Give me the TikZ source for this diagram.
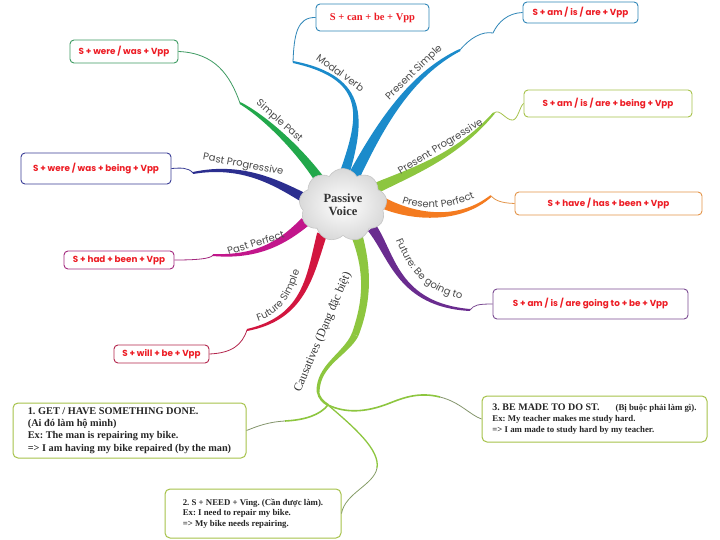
\documentclass[tikz,border=0pt]{standalone}
\usepackage{fontspec}
\setmainfont{Liberation Serif}
\newfontfamily\gothic{Poppins}
\usetikzlibrary{calc,shapes.symbols,decorations.text}
\definecolor{cblue}{HTML}{1B8BCB}
\definecolor{cyg}{HTML}{8DC63F}
\definecolor{corange}{HTML}{F47B20}
\definecolor{cpurple}{HTML}{6A2C8F}
\definecolor{cgreen}{HTML}{22A84B}
\definecolor{cnavy}{HTML}{2B2E8F}
\definecolor{cmag}{HTML}{C2168B}
\definecolor{ccrim}{HTML}{D2163F}
\definecolor{fred}{HTML}{ED1C24}
\definecolor{lblgray}{HTML}{4A4A4A}
\definecolor{bblue}{HTML}{2F86B8}
\definecolor{bgreen}{HTML}{3E9B62}
\definecolor{bnavy}{HTML}{3A3E96}
\definecolor{bmag}{HTML}{A3297E}
\definecolor{bcrim}{HTML}{B3254C}
\definecolor{byg}{HTML}{A6C24A}
\definecolor{borange}{HTML}{E39449}
\definecolor{bpurple}{HTML}{7B4B92}
% tapered branch: color, A, C1, C2, B, half width at A, half width at B
\newcommand\tbr[7]{%
  \path ($(#2)!#6!90:(#3)$) coordinate (tA1)
        ($(#2)!#6!-90:(#3)$) coordinate (tA2)
        ($(#5)!#7!-90:(#4)$) coordinate (tB1)
        ($(#5)!#7!90:(#4)$) coordinate (tB2)
        ($(#3)!0.7*#6!-90:(#2)$) coordinate (tD1)
        ($(#3)!0.7*#6!90:(#2)$) coordinate (tD1r)
        ($(#4)!0.3*#6+0.7*#7!90:(#5)$) coordinate (tD2)
        ($(#4)!0.3*#6+0.7*#7!-90:(#5)$) coordinate (tD2r);
  \fill[#1] (tA1) .. controls (tD1) and (tD2) .. (tB1) -- (tB2)
     .. controls (tD2r) and (tD1r) .. (tA2) -- cycle;
}
\frenchspacing
\begin{document}
\begin{tikzpicture}[x=1pt,y=-1pt,
  lbl/.style={font=\gothic\fontsize{10}{11}\selectfont, text=lblgray, inner sep=0pt},
  curvelbl/.style={decorate, decoration={text along path, text color=lblgray,
     text={|\gothic\fontsize{10}{11}\selectfont|#1}, text align=left}},
  formbox/.style={draw=#1, fill=white, rounded corners=4pt, line width=0.9pt,
    font=\gothic\bfseries\fontsize{8.8}{10}\selectfont, text=fred, inner sep=0pt},
  causbox/.style={draw=byg, fill=white, rounded corners=5pt, line width=1pt,
    align=left, inner sep=0pt, text=black!85},
  thinc/.style={draw=#1, line width=0.8pt},
]
\useasboundingbox (0,0) rectangle (720,540);
\fill[white] (0,0) rectangle (720,540);

% branch start and end points
\coordinate (sMV) at (343,178);  \coordinate (eMV) at (293,62);
\coordinate (sPS) at (352,180);  \coordinate (ePS) at (460,50);
\coordinate (sPP) at (372,190);  \coordinate (ePP) at (494,113);
\coordinate (sPF) at (383,203);  \coordinate (ePF) at (491,196);
\coordinate (sFG) at (372,228);  \coordinate (eFG) at (470,310);
\coordinate (sSP) at (322,183);  \coordinate (eSP) at (240,103);
\coordinate (sPG) at (308,200);  \coordinate (ePG) at (193,173);
\coordinate (sPT) at (305,222);  \coordinate (ePT) at (213,255);
\coordinate (sFS) at (322,234);  \coordinate (eFS) at (247,330);
\coordinate (sCA) at (357,236);  \coordinate (mCA) at (355,335);
\coordinate (eCA) at (318,392);  \coordinate (jn) at (328,405);

% thick tapered branches
\tbr{cblue}{sMV}{362,120}{370,78}{eMV}{5pt}{1pt}
\tbr{cblue}{sPS}{380,125}{410,75}{ePS}{6pt}{1.1pt}
\tbr{cyg}{sPP}{410,172}{455,158}{ePP}{5.5pt}{1pt}
\tbr{corange}{sPF}{415,218}{460,222}{ePF}{5.5pt}{1pt}
\tbr{cpurple}{sFG}{392,255}{398,305}{eFG}{5pt}{1pt}
\tbr{cgreen}{sSP}{300,150}{265,117}{eSP}{5pt}{1pt}
\tbr{cnavy}{sPG}{280,185}{245,163}{ePG}{5pt}{1pt}
\tbr{cmag}{sPT}{285,240}{260,258}{ePT}{5pt}{1pt}
\tbr{ccrim}{sFS}{310,275}{305,318}{eFS}{5pt}{1pt}
\tbr{cyg}{sCA}{368,270}{368,300}{mCA}{5.5pt}{3.5pt}
\tbr{cyg}{mCA}{345,355}{318,365}{eCA}{3.5pt}{1.5pt}
\draw[cyg, line width=2.4pt, line cap=round] (eCA) .. controls (319,398) and (323,402) .. (jn);

% central cloud
\node[cloud, cloud puffs=9, cloud puff arc=120, aspect=1.2,
  minimum width=88pt, minimum height=73pt, draw=gray!45, line width=0.6pt,
  inner color=white, outer color=gray!30, align=center,
  font=\bfseries\fontsize{12.5}{13.5}\selectfont, text=black!80] (pv) at (343,205) {Passive\\Voice};

% formula boxes
\node[formbox=bblue, minimum width=113pt, minimum height=27pt,
  font=\bfseries\fontsize{10.5}{12}\selectfont] (mv) at (372.5,17.5) {S + can + be + Vpp};
\node[formbox=bblue, minimum width=115pt, minimum height=21pt] (ps) at (580.5,12.5) {S + am / is / are + Vpp};
\node[formbox=byg, minimum width=168pt, minimum height=27pt] (pp) at (608,103.5) {S + am / is / are + being + Vpp};
\node[formbox=borange, minimum width=187pt, minimum height=23pt] (pf) at (608.5,203.5) {S + have / has + been + Vpp};
\node[formbox=bpurple, minimum width=195pt, minimum height=30pt] (fg) at (590.5,304) {S + am / is / are going to + be + Vpp};
\node[formbox=bgreen, minimum width=108pt, minimum height=23pt] (sp) at (124,51.5) {S + were / was + Vpp};
\node[formbox=bnavy, minimum width=150pt, minimum height=31pt] (pg) at (96,168.5) {S + were / was + being + Vpp};
\node[formbox=bmag, minimum width=110pt, minimum height=18pt] (pt) at (119,260) {S + had + been + Vpp};
\node[formbox=bcrim, minimum width=95pt, minimum height=18pt] (fs) at (161.5,354) {S + will + be + Vpp};

% thin connectors to boxes
\coordinate (kPS) at (493,33);
\coordinate (kPP) at (513,120);
\draw[thinc=bblue] (eMV) .. controls (294,35) and (297,17) .. (mv.west);
\draw[thinc=bblue] (ePS) .. controls (470,38) and (482,31) .. (kPS)
   .. controls (498,22) and (508,13) .. (ps.west);
\draw[thinc=byg] (ePP) .. controls (500,108) and (506,121) .. (kPP)
   .. controls (518,119) and (520,106) .. (pp.west);
\draw[thinc=borange] (ePF) .. controls (495,200) and (500,203) .. (pf.west);
\draw[thinc=bpurple] (eFG) .. controls (474,305) and (478,304) .. (fg.west);
\draw[thinc=bgreen] (eSP) .. controls (230,75) and (215,53) .. (sp.east);
\draw[thinc=bnavy] (ePG) .. controls (188,167) and (180,168) .. (pg.east);
\draw[thinc=bmag] (ePT) .. controls (211,259) and (195,260) .. (pt.east);
\draw[thinc=bcrim] (eFS) .. controls (242,345) and (232,353) .. (fs.east);

% branch labels, set along the branches
\path (sMV) .. controls (362,120) and (370,78) .. (eMV)
   node[lbl, pos=0.75, sloped, above=3.5pt] (lMV) {Modal verb};
\path (sPS) .. controls (380,125) and (410,75) .. (ePS)
   node[lbl, pos=0.7, sloped, above=3pt] (lPS) {Present Simple};
\path (sPP) .. controls (410,172) and (455,158) .. (ePP)
   node[lbl, pos=0.6, sloped, above=3pt] (lPP) {Present Progressive};
\path[curvelbl={Present Perfect}] (402,203) .. controls (425,211) and (455,211) .. (492,189);
\path (sSP) .. controls (300,150) and (265,117) .. (eSP)
   node[lbl, pos=0.6, sloped, above=3.5pt] (lSP) {Simple Past};
\path (sPG) .. controls (280,185) and (245,163) .. (ePG)
   node[lbl, pos=0.65, sloped, above=2.5pt] (lPG) {Past Progressive};
\path (sPT) .. controls (285,240) and (260,258) .. (ePT)
   node[lbl, pos=0.62, sloped, above=4pt] (lPT) {Past Perfect};
\path[curvelbl={Future Simple}] (258,321) .. controls (280,314) and (293,298) .. (303,258);
\path[curvelbl={Future: Be going to}] (396,240) .. controls (409,272) and (425,298) .. (490,303);
\node[font=\fontsize{12}{13}\selectfont, text=black!80, rotate=67, inner sep=0pt] (lCA) at (323,332) {Causatives (Dạng đặc biệt)};

% causative boxes
\node[causbox, minimum width=233pt, minimum height=55pt,
  font=\bfseries\fontsize{10.3}{12.3}\selectfont] (c1) at (129.5,430.5)
  {1. GET / HAVE SOMETHING DONE.\\(Ai đó làm hộ mình)\\Ex: The man is repairing my bike.\\=> I am having my bike repaired (by the man)};
\node[causbox, minimum width=176pt, minimum height=49pt,
  font=\bfseries\fontsize{8.8}{10.5}\selectfont] (c2) at (253,513.5)
  {2. S + NEED + Ving. (Cần được làm).\\Ex: I need to repair my bike.\\=> My bike needs repairing.};
\node[causbox, minimum width=225pt, minimum height=46pt,
  font=\bfseries\fontsize{8.8}{11}\selectfont] (c3) at (594.5,419)
  {{\fontsize{10}{11}\selectfont 3. BE MADE TO DO ST.}\hspace{16pt}(Bị buộc phải làm gì).\\Ex: My teacher makes me study hard.\\=> I am made to study hard by my teacher.};

% causative connectors
\coordinate (k1) at (285,421);
\coordinate (k3) at (440,397);
\coordinate (k2) at (377,468);
\draw[cyg, line width=1.6pt] (jn) .. controls (320,415) and (305,420) .. (k1);
\draw[gray!70!cyg, line width=0.8pt] (k1) .. controls (268,422) and (258,426) .. (c1.east);
\draw[cyg, line width=1.6pt] (jn) .. controls (345,413) and (365,413) .. (390,403)
   .. controls (405,397) and (420,392) .. (k3);
\draw[gray!70!cyg, line width=0.8pt] (k3) .. controls (460,402) and (470,415) .. (c3.west);
\draw[cyg, line width=1.3pt] (jn) .. controls (355,428) and (380,450) .. (k2);
\draw[gray!60!cyg, line width=0.8pt] (k2) .. controls (374,485) and (345,493) .. (c2.east);
\end{tikzpicture}
\end{document}
